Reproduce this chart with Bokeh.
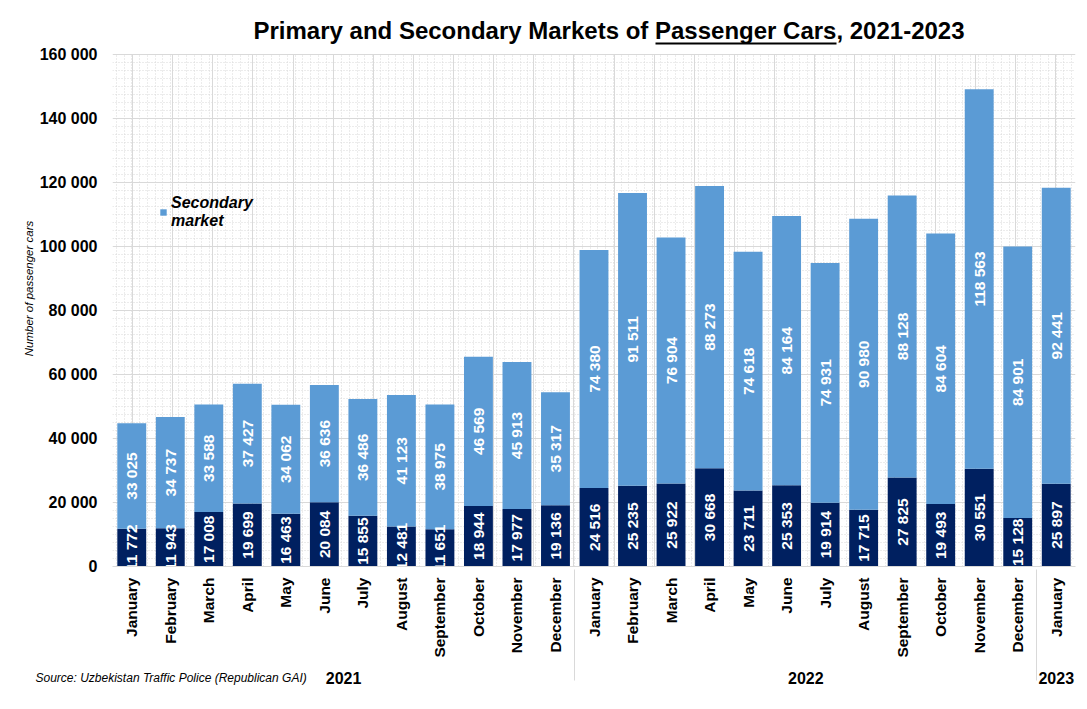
import math
from bokeh.plotting import figure
from bokeh.models import (FactorRange, Range1d, FixedTicker, Grid, Label, BoxAnnotation,
                          Legend, LegendItem, ColumnDataSource, CategoricalTicker, Title)
from bokeh.core.properties import value
from bokeh.embed import file_html
from bokeh.resources import INLINE

# ---------------- data ----------------
years = ["2021"] * 12 + ["2022"] * 12 + ["2023"]
months = ["January", "February", "March", "April", "May", "June", "July", "August",
          "September", "October", "November", "December"] * 2 + ["January"]
primary = [11772, 11943, 17008, 19699, 16463, 20084, 15855, 12481, 11651, 18944, 17977, 19136,
           24516, 25235, 25922, 30668, 23711, 25353, 19914, 17715, 27825, 19493, 30551, 15128,
           25897]
secondary = [33025, 34737, 33588, 37427, 34062, 36636, 36486, 41123, 38975, 46569, 45913, 35317,
             74380, 91511, 76904, 88273, 74618, 84164, 74931, 90980, 88128, 84604, 118563, 84901,
             92441]
y_ticks = [0, 20000, 40000, 60000, 80000, 100000, 120000, 140000, 160000]
title_text = "Primary and Secondary Markets of Passenger Cars, 2021-2023"
source_text = "Source: Uzbekistan Traffic Police (Republican GAI)"
y_label = "Number of passenger cars"
legend_label = "Secondary\nmarket"

FONT = "Liberation Sans"
DARK = "#002060"
LIGHT = "#5B9BD5"
GRID = "#d9d9d9"
Y_MAX = 160000
# the plot frame reaches up into the title area (frame top at 10 px, value axis top at 54 px)
Y_END = Y_MAX * (566 - 10) / 512


def fmt(v):
    return f"{int(v):,}".replace(",", " ")


factors = list(zip(years, months))
n = len(factors)

src = ColumnDataSource(dict(
    x=factors,
    primary=primary,
    secondary=secondary,
    p_mid=[v / 2 for v in primary],
    s_mid=[a + b / 2 for a, b in zip(primary, secondary)],
    p_lab=[fmt(v) for v in primary],
    s_lab=[fmt(v) for v in secondary],
))

p = figure(x_range=FactorRange(*factors, factor_padding=0, group_padding=0,
                               subgroup_padding=0, range_padding=0),
           y_range=Range1d(0, Y_END),
           width=1087, height=709, output_backend="svg", toolbar_location=None,
           min_border_left=112, min_border_right=12, min_border_top=10,
           min_border_bottom=143)
p.background_fill_color = "white"
p.border_fill_color = "white"
p.outline_line_color = None

# vertical grid lines at category boundaries (major) and every fifth of a category (minor)
p.xgrid.visible = False
major_b = [f"b{i}" for i in range(n + 1)]
minor_b = [f"m{i}" for i in range(5 * n + 1)]
p.extra_x_ranges = {
    "major": FactorRange(*major_b, factor_padding=0, range_padding=-1,
                         range_padding_units="absolute"),
    "minor": FactorRange(*minor_b, factor_padding=0, range_padding=-1,
                         range_padding_units="absolute"),
}
p.add_layout(Grid(dimension=0, x_range_name="minor", ticker=CategoricalTicker(),
                  cross_bounds=(0, Y_MAX),
                  grid_line_color=GRID, grid_line_dash="1 2"))
p.add_layout(Grid(dimension=0, x_range_name="major", ticker=CategoricalTicker(),
                  cross_bounds=(0, Y_MAX),
                  grid_line_color=GRID, grid_line_width=1))

yminor = [v for v in range(0, Y_MAX + 1, 2500) if v % 20000 != 0]
yticker = FixedTicker(ticks=y_ticks, minor_ticks=yminor)
p.yaxis.ticker = yticker
p.ygrid.ticker = yticker
p.ygrid.grid_line_color = GRID
p.ygrid.minor_grid_line_color = GRID
p.ygrid.minor_grid_line_dash = "1 2"

# bars
bars = p.vbar_stack(["primary", "secondary"], x="x", width=0.75, source=src,
                    fill_color=[DARK, LIGHT], line_color=None)

# value labels
for ycol, tcol in (("p_mid", "p_lab"), ("s_mid", "s_lab")):
    p.text(x="x", y=ycol, text=tcol, source=src, angle=math.pi / 2,
           text_align="center", text_baseline="middle", text_color="white",
           text_font=value(FONT), text_font_style="bold", text_font_size="15.5px")

# y axis
yax = p.yaxis[0]
yax.bounds = (0, Y_MAX)
yax.major_label_overrides = {t: fmt(t) for t in y_ticks}
yax.axis_label = y_label
yax.axis_label_text_font = FONT
yax.axis_label_text_font_style = "italic"
yax.axis_label_text_font_size = "11.5px"
yax.axis_label_text_color = "black"
yax.axis_label_standoff = 2
yax.major_label_text_font = FONT
yax.major_label_text_font_style = "bold"
yax.major_label_text_font_size = "16px"
yax.major_label_text_color = "black"
yax.major_label_standoff = 15
yax.major_tick_out = 0
yax.major_tick_in = 0
yax.minor_tick_out = 0
yax.minor_tick_in = 0
yax.axis_line_color = None

# x axis
xax = p.xaxis[0]
xax.major_label_orientation = math.pi / 2
xax.major_label_text_font = FONT
xax.major_label_text_font_style = "bold"
xax.major_label_text_font_size = "15.5px"
xax.major_label_text_color = "black"
xax.major_label_standoff = 11
xax.group_label_orientation = "horizontal"
xax.group_text_font = FONT
xax.group_text_font_style = "bold"
xax.group_text_font_size = "16px"
xax.group_text_color = "black"
xax.separator_line_color = GRID
xax.separator_line_width = 1
xax.major_tick_out = 0
xax.major_tick_in = 0
xax.axis_line_color = GRID

# title (inside the extended frame) with underline under "Passenger Cars"
p.add_layout(Label(x=141, y=536, x_units="screen", y_units="screen", text=title_text,
                   text_font=FONT, text_font_style="bold", text_font_size="24px",
                   text_align="left", text_baseline="alphabetic", text_color="black"))
p.add_layout(BoxAnnotation(left=543, right=724, bottom=522, top=524,
                           left_units="screen", right_units="screen",
                           bottom_units="screen", top_units="screen",
                           fill_color="black", fill_alpha=1, line_color=None))

# source note (side-panel title below the category axis)
p.add_layout(Title(text=source_text, align="left", offset=-77, vertical_align="top",
                   standoff=-32, text_font=FONT, text_font_style="italic",
                   text_font_size="12px", text_color="black"), "below")

# legend (secondary market only)
legend = Legend(items=[LegendItem(label=legend_label, renderers=[bars[1]])],
                location=(47, 336), padding=0, margin=0, spacing=0,
                border_line_color=None, background_fill_alpha=0,
                glyph_width=8, glyph_height=8, label_standoff=4,
                label_text_font=FONT, label_text_font_style="bold italic",
                label_text_font_size="16px", label_text_color="black")
p.add_layout(legend)

open("out.html", "w").write(file_html(p, INLINE))
